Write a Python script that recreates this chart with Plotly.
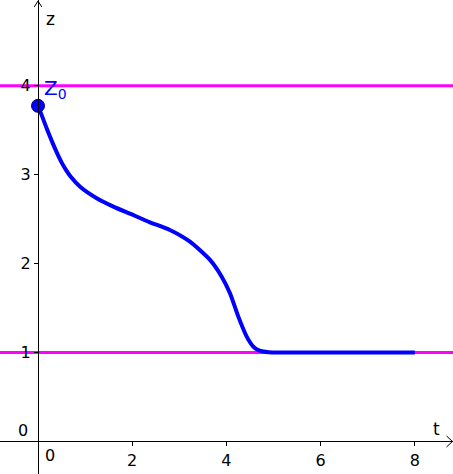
import plotly.graph_objects as go

# data
t_vals = [0, 0.1, 0.2, 0.3, 0.4, 0.5, 0.6, 0.7, 0.9, 1.246, 1.599, 1.953, 2.378, 2.80,
          3.227, 3.652, 3.90, 4.076, 4.253, 4.431, 4.571, 4.65, 4.783, 4.9, 5.068, 5.3, 6.0, 7.0, 8.0]
z_vals = [3.776, 3.64, 3.50, 3.37, 3.25, 3.14, 3.05, 2.975, 2.862, 2.736, 2.642, 2.562, 2.465, 2.379,
          2.247, 2.042, 1.854, 1.667, 1.404, 1.179, 1.066, 1.035, 1.012, 1.004, 1.0, 1.0, 1.0, 1.0, 1.0]
levels = [4, 1]
x_ticks = [2, 4, 6, 8]
y_ticks = [1, 2, 3, 4]
point_t = [0]
point_z = [3.776]

X_RANGE = [-0.807, 8.811]
Y_RANGE = [-0.366, 4.966]
FONT = "DejaVu Sans"

fig = go.Figure()

for lv in levels:
    fig.add_hline(y=lv, line=dict(color="#ff00ff", width=3), layer="below")

fig.add_trace(go.Scatter(x=t_vals, y=z_vals, mode="lines",
                         line=dict(color="#0000ff", width=4, shape="spline", smoothing=0.6),
                         hoverinfo="skip"))
fig.add_trace(go.Scatter(x=point_t, y=point_z, mode="markers",
                         marker=dict(size=13, color="#0000ff", line=dict(color="#00007a", width=1)),
                         hoverinfo="skip"))

xpos = (0 - Y_RANGE[0]) / (Y_RANGE[1] - Y_RANGE[0])
ypos = (0 - X_RANGE[0]) / (X_RANGE[1] - X_RANGE[0])

fig.update_layout(
    width=453, height=474,
    margin=dict(l=0, r=0, t=0, b=0),
    paper_bgcolor="white", plot_bgcolor="white",
    showlegend=False,
    xaxis=dict(range=X_RANGE, anchor="free", position=xpos, showline=True,
               linecolor="black", linewidth=1, showgrid=False, zeroline=False,
               tickvals=x_ticks, ticktext=[str(v) for v in x_ticks],
               ticks="outside", ticklen=4, tickcolor="black",
               tickfont=dict(family=FONT, size=16, color="black"), fixedrange=True),
    yaxis=dict(range=Y_RANGE, anchor="free", position=ypos, showline=True,
               linecolor="black", linewidth=1, showgrid=False, zeroline=False,
               tickvals=y_ticks, ticktext=[str(v) for v in y_ticks],
               ticks="outside", ticklen=4, tickcolor="black",
               tickfont=dict(family=FONT, size=16, color="black"), fixedrange=True),
)

# axis arrow heads
fig.add_shape(type="path", path="M 8.673 0.062 L 8.80 0 L 8.673 -0.062",
              line=dict(color="black", width=1), xref="x", yref="y")
fig.add_shape(type="path", path="M -0.08 4.887 L 0 4.955 L 0.08 4.887",
              line=dict(color="black", width=1), xref="x", yref="y")

anns = [
    dict(x=0.255, y=4.753, text="z", font=dict(family=FONT, size=17, color="black")),
    dict(x=8.46, y=0.141, text="t", font=dict(family=FONT, size=17, color="black")),
    dict(x=-0.318, y=0.118, text="0", font=dict(family=FONT, size=16, color="black")),
    dict(x=0.255, y=-0.163, text="0", font=dict(family=FONT, size=16, color="black")),
    dict(x=0.08, y=3.96, text="Z<sub>0</sub>", xanchor="left",
         font=dict(family=FONT, size=20, color="#0000ff")),
]
for a in anns:
    a.setdefault("xanchor", "center")
    fig.add_annotation(showarrow=False, xref="x", yref="y", **a)

fig.write_html("out.html", config={"displayModeBar": False},
               post_script="document.body.style.margin='0px';")
